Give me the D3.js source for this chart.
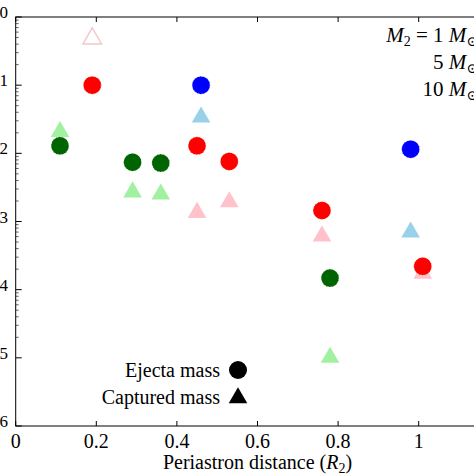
<!DOCTYPE html>
<html><head><meta charset="utf-8">
<script src="https://cdn.jsdelivr.net/npm/d3@7"></script>
<style>body{margin:0;background:#fff;overflow:hidden}svg{display:block}text{font-family:"Liberation Serif","DejaVu Serif",serif}</style>
</head><body>
<div id="chart"></div>
<script>
const ejectaX = [0.19, 0.11, 0.29, 0.36, 0.46, 0.45, 0.53, 0.76, 0.78, 0.98, 1.01];
const ejectaY = [0.1, 0.0129, 0.0074, 0.0072, 0.1, 0.0129, 0.0076, 0.00145, 0.000148, 0.0115, 0.00022];
const ejectaM = ['1', '10', '10', '10', '5', '1', '1', '1', '10', '5', '1'];
const captX = [0.19, 0.11, 0.29, 0.36, 0.46, 0.45, 0.53, 0.76, 0.78, 0.98, 1.01];
const captY = [0.5, 0.0215, 0.0028, 0.0026, 0.035, 0.0014, 0.002, 0.00063, 0.0000105, 0.00072, 0.00018];
const captM = ['1h', '10', '10', '10', '5', '1', '1', '1', '10', '5', '1'];
const xTicks = [0, 0.2, 0.4, 0.6, 0.8, 1];
const yDecades = [0, -1, -2, -3, -4, -5, -6];

const W = 474, H = 474;
const margin = {top: 17, left: 15.7, bottom: 48};
const svg = d3.select('#chart').append('svg').attr('width', W).attr('height', H);

const x = d3.scaleLinear().domain([0, 1.2]).range([margin.left, margin.left + 403 * 1.2]);
const y = d3.scaleLog().domain([1e-6, 1]).range([H - margin.bottom, margin.top]);

const circleFill = {'1': '#ff0000', '5': '#0000ff', '10': '#006400'};
const triFill = {'1': '#ffb6c1', '1h': '#ffffff', '5': '#87c8e6', '10': '#90ee90'};

// frame
svg.append('rect').attr('x', x(0)).attr('y', y(1)).attr('width', x(1.2) - x(0)).attr('height', y(1e-6) - y(1))
  .attr('fill', 'none').attr('stroke', '#000').attr('stroke-width', 1);

// x ticks (bottom + top, inward)
xTicks.forEach(t => {
  svg.append('line').attr('x1', x(t)).attr('x2', x(t)).attr('y1', y(1e-6)).attr('y2', y(1e-6) - 5).attr('stroke', '#000');
  svg.append('line').attr('x1', x(t)).attr('x2', x(t)).attr('y1', y(1)).attr('y2', y(1) + 5).attr('stroke', '#000');
  svg.append('text').attr('x', x(t)).attr('y', y(1e-6) + 22).attr('text-anchor', 'middle').attr('font-size', 20).text(t);
});
svg.append('text').attr('x', x(0.6)).attr('y', 469).attr('text-anchor', 'middle').attr('font-size', 20)
  .html('Periastron distance (<tspan font-style="italic">R</tspan><tspan font-size="14" dy="4">2</tspan><tspan dy="-4">)</tspan>');

// y ticks
yDecades.forEach(k => {
  const v = Math.pow(10, k);
  svg.append('line').attr('x1', x(0)).attr('x2', x(0) + 6).attr('y1', y(v)).attr('y2', y(v)).attr('stroke', '#000');
  if (k > -6) for (let m = 2; m < 10; m++) {
    svg.append('line').attr('x1', x(0)).attr('x2', x(0) + 3).attr('y1', y(v * m)).attr('y2', y(v * m)).attr('stroke', '#000').attr('stroke-width', 0.6);
  }
  const lab = svg.append('text').attr('x', 8).attr('y', y(v) + 8).attr('text-anchor', 'end').attr('font-size', 20);
  lab.append('tspan').text('10');
  lab.append('tspan').attr('font-size', 17).attr('dy', -7).text('\u2212' + (-k));
});

// points
const tri = d3.symbol().type(d3.symbolTriangle).size(150);
captX.forEach((xv, i) => {
  svg.append('path').attr('d', tri).attr('transform', `translate(${x(xv)},${y(captY[i]) + 1})`)
    .attr('fill', triFill[captM[i]]).attr('fill-opacity', captM[i] === '1h' ? 1 : 0.85)
    .attr('stroke', captM[i] === '1h' ? '#f4c8cc' : 'none').attr('stroke-width', 1.5);
});
ejectaX.forEach((xv, i) => {
  svg.append('circle').attr('cx', x(xv)).attr('cy', y(ejectaY[i])).attr('r', 9)
    .attr('fill', circleFill[ejectaM[i]]).attr('stroke', '#fff').attr('stroke-opacity', 0.5).attr('stroke-dasharray', '2,1');
});

// legends
const lg = [['Ejecta mass', 371], ['Captured mass', 398]];
lg.forEach(([t, yy]) => {
  svg.append('text').attr('x', 220).attr('y', yy + 6).attr('text-anchor', 'end').attr('font-size', 20).text(t);
});
svg.append('circle').attr('cx', 238).attr('cy', 370).attr('r', 9).attr('fill', '#000');
svg.append('path').attr('d', tri).attr('transform', 'translate(238,398)').attr('fill', '#000');

const mLab = [['M', '1', 42], [null, '5', 69], [null, '10', 96]];
mLab.forEach(([m, v, yy]) => {
  const t = svg.append('text').attr('x', 478).attr('y', yy).attr('text-anchor', 'end').attr('font-size', 21);
  if (m) {
    t.append('tspan').attr('font-style', 'italic').text('M');
    t.append('tspan').attr('font-size', 14).attr('dy', 4).text('2');
    t.append('tspan').attr('dy', -4).text(' = ');
  }
  t.append('tspan').text(v + ' ');
  t.append('tspan').attr('font-style', 'italic').text('M');
  t.append('tspan').attr('font-size', 14).attr('dy', 4).text('\u2299');
});
</script>
</body></html>
